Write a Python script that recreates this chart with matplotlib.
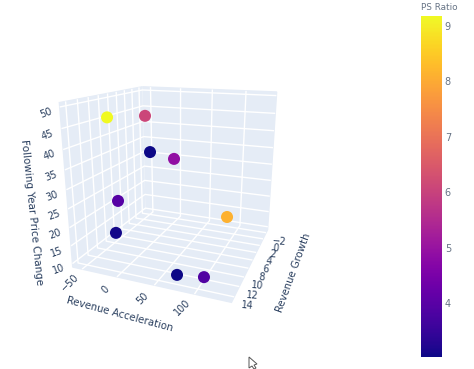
import matplotlib
matplotlib.use("Agg")
import matplotlib.pyplot as plt
from matplotlib.patches import Polygon
from mpl_toolkits.mplot3d import proj3d

# values
rev_accel = [-52.4, -31.8, -25, 8.2, -21.1, -12.4, 88.1, 69.3, 103.3]
rev_growth = [8, 2, 2, 1, 11, 13, 0, 13, 13]
price_change = [45.3, 43.9, 33.2, 31.2, 25.1, 18.4, 14.2, 10.1, 11]
ps_ratio = [9.18, 6.1, 3.05, 4.9, 3.95, 3.1, 8.1, 3.05, 3.85]

x_ticks = [-50, 0, 50, 100]
y_ticks = [-2, 0, 2, 4, 6, 8, 10, 12, 14]
z_ticks = [10, 15, 20, 25, 30, 35, 40, 45, 50]
cbar_ticks = [4, 5, 6, 7, 8, 9]

text_col = "#2a3f5f"
bar_text = "#667385"
W, H = 474, 369

fig = plt.figure(figsize=(4.74, 3.69), dpi=100)
ax = fig.add_axes([0.0931, 0.1579, 0.5546, 0.7125], projection="3d")
ax.set_box_aspect((1, 1, 1))
ax.set_proj_type("persp", focal_length=0.3)
ax.view_init(elev=17, azim=-68)

sc = ax.scatter(rev_accel, rev_growth, price_change, c=ps_ratio, cmap="plasma",
                vmin=3.03, vmax=9.18, s=75, linewidths=0, depthshade=False, alpha=1)

x_lim = (-64, 143)
y_lim = (15, -3)
z_lim = (9, 51)
ax.set_xlim(x_lim)
ax.set_ylim(y_lim)
ax.set_zlim(z_lim)
ax.set_xticks(x_ticks)
ax.set_yticks(y_ticks)
ax.set_zticks(z_ticks)
ax.set_xticklabels([])
ax.set_yticklabels([])
ax.set_zticklabels([])
ax.tick_params(length=0)
for a in [ax.xaxis, ax.yaxis, ax.zaxis]:
    a.set_pane_color("#e5ecf6")
    a.pane.set_edgecolor("#e5ecf6")
    a.line.set_color((1, 1, 1, 0))
    a._axinfo["grid"]["color"] = "white"
    a._axinfo["grid"]["linewidth"] = 1.0
    a._axinfo["tick"]["inward_factor"] = 0
    a._axinfo["tick"]["outward_factor"] = 0

# tick labels by hand, they follow the edges of the box
M = ax.get_proj()
def tick_label(x, y, z, s, dx, dy, rot):
    a, b, _ = proj3d.proj_transform(x, y, z, M)
    ax.annotate(s.replace("-", "\u2212"), xy=(a, b), xytext=(dx, -dy), textcoords="offset pixels",
                ha="center", va="center", rotation=rot, fontsize=7, color=text_col,
                rotation_mode="anchor")

for v in x_ticks:
    tick_label(v, y_lim[0], z_lim[0], str(v), -12, 13, 45)
for v in y_ticks:
    tick_label(x_lim[1], v, z_lim[0], str(v), 13, 9, -5)
for v in z_ticks:
    tick_label(x_lim[0], y_lim[0], v, str(v), -14, 6, 20)

cax = fig.add_axes([421 / W, 1 - 357 / H, 21 / W, 341 / H])
cb = fig.colorbar(sc, cax=cax)
cb.set_ticks(cbar_ticks)
cb.ax.tick_params(length=0, labelsize=7, labelcolor=bar_text, pad=2)
cb.outline.set_visible(False)
fig.text(421 / W, 1 - 7 / H, "PS Ratio", fontsize=6.4, color=bar_text, va="center")

fig.text(32 / W, 1 - 212 / H, "Following Year Price Change", fontsize=7.5, color=text_col,
         rotation=-84, ha="center", va="center")
fig.text(120 / W, 1 - 314 / H, "Revenue Acceleration", fontsize=7.3, color=text_col,
         rotation=-15, ha="center", va="center")
fig.text(293 / W, 1 - 273 / H, "Revenue Growth", fontsize=7.3, color=text_col,
         rotation=70, ha="center", va="center")

# mouse pointer left in the screenshot
pointer = [(249, 357), (249, 368), (252, 366), (254, 369), (256, 368), (254, 365), (257, 364)]
fig.add_artist(Polygon([(p / W, 1 - q / H) for p, q in pointer], closed=True, transform=fig.transFigure,
                       facecolor="white", edgecolor="#555555", linewidth=0.7))

fig.savefig("out.png", dpi=100)
